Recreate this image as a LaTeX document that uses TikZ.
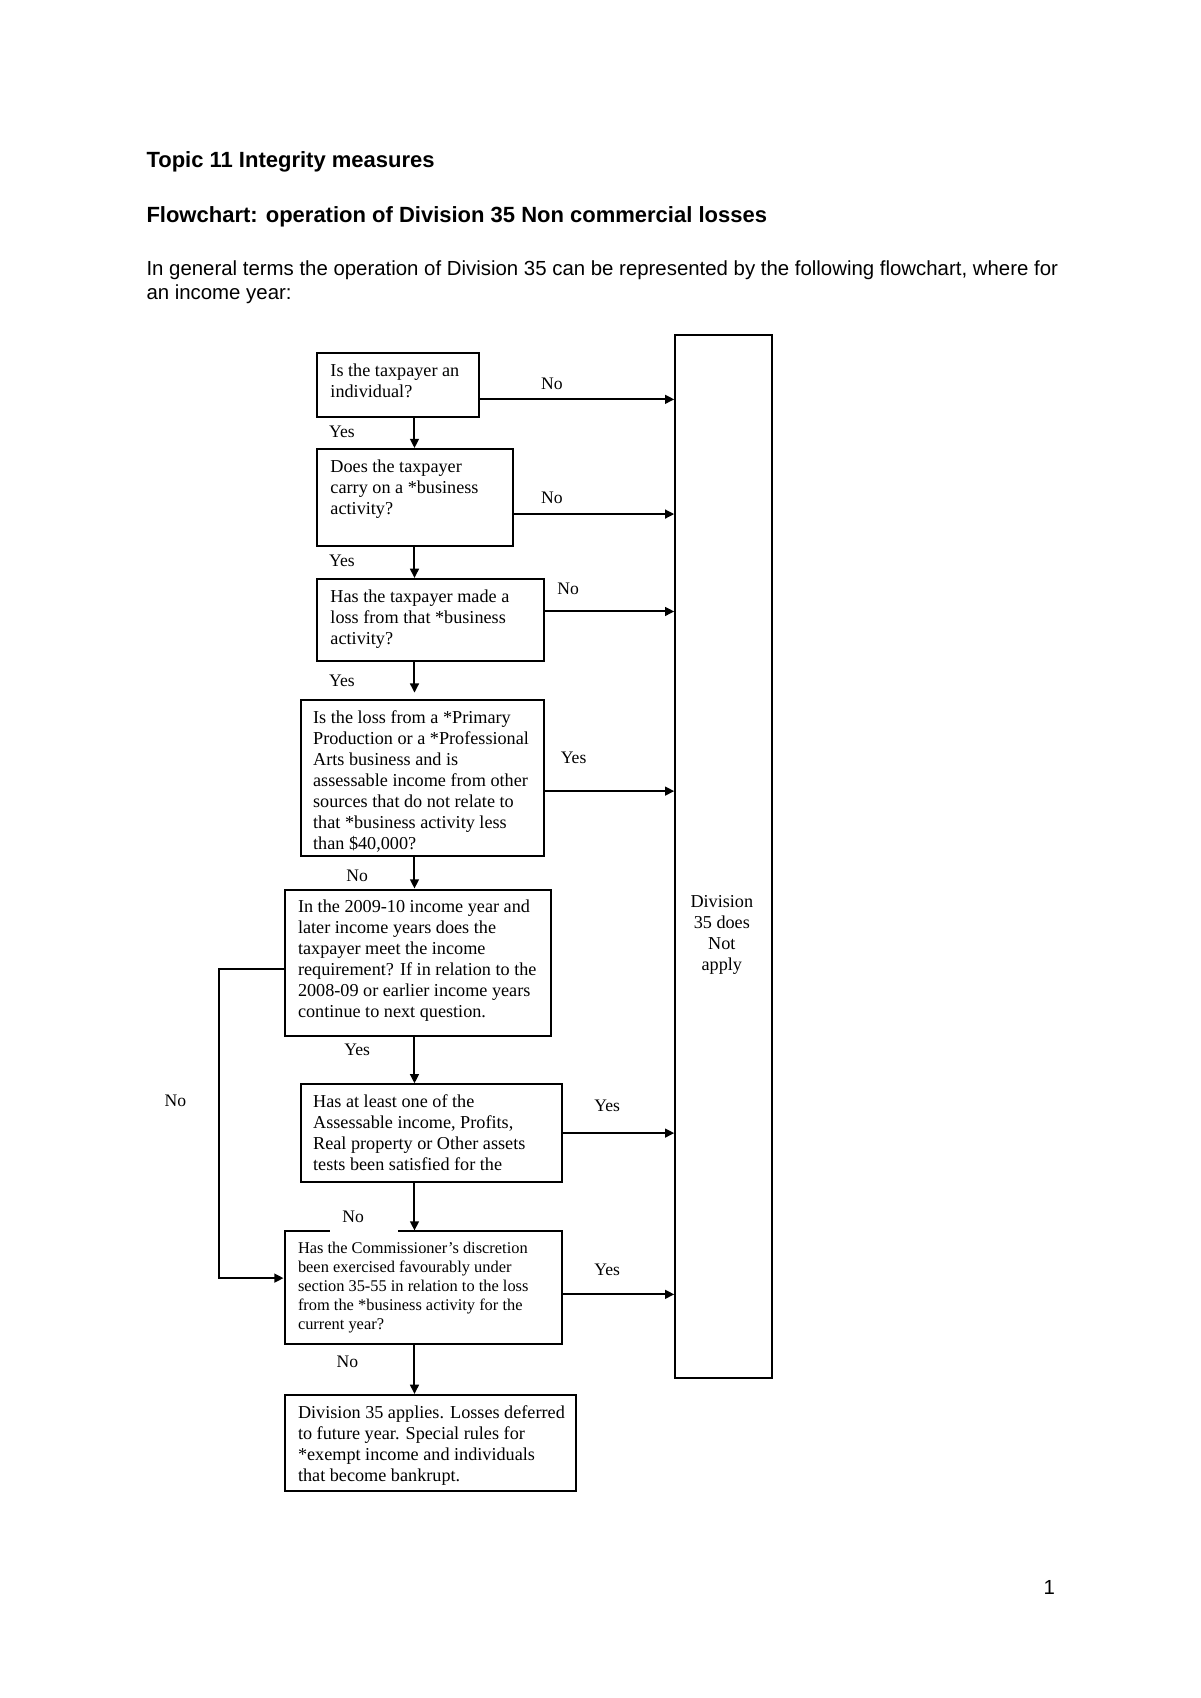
\documentclass[tikz,border=0pt]{standalone}
\usepackage{fontspec}
\setmainfont{Liberation Serif}
\newfontfamily\arialfont{Liberation Sans}
\usetikzlibrary{arrows.meta}
\def\U{0.5412pt}
\begin{document}
\begin{tikzpicture}[x=0.5412pt,y=-0.5412pt,
  box/.style={draw, line width=1pt, inner sep=0pt, anchor=north west},
  txt/.style={anchor=north west, inner sep=0pt, align=left, font=\fontsize{9.1}{10.5}\selectfont},
  smalltxt/.style={anchor=north west, inner sep=0pt, align=left, font=\fontsize{8.2}{9.6}\selectfont},
  lbl/.style={inner sep=0pt, font=\fontsize{8.8}{10}\selectfont},
  arr/.style={-{Triangle[length=4.6pt,width=4.4pt]}, line width=1pt},
  head/.style={anchor=base west, inner sep=0pt, font=\arialfont\bfseries\fontsize{11}{13}\selectfont},
  body/.style={anchor=base west, inner sep=0pt, font=\arialfont\fontsize{10.2}{12}\selectfont}]
\useasboundingbox[fill=white] (0,0) rectangle (1109,1569);

% header
\node[head] (t1) at (135,155) {Topic 11 Integrity measures};
\node[head] (t2) at (135,206) {Flowchart: operation of Division 35 Non commercial losses};
\node[body] (t3) at (135,254.5) {In general terms the operation of Division 35 can be represented by the following flowchart, where for};
\node[body] (t4) at (135,276.5) {an income year:};
\node[body] (pg) at (964,1473) {1};

% boxes
\node[box, minimum width=150*\U, minimum height=59*\U] (A) at (292,325) {};
\node[box, minimum width=181*\U, minimum height=90*\U] (B) at (292,414) {};
\node[box, minimum width=210*\U, minimum height=76*\U] (C) at (292,534) {};
\node[box, minimum width=225*\U, minimum height=144*\U] (D) at (277,646) {};
\node[box, minimum width=246*\U, minimum height=135*\U] (E) at (262,821) {};
\node[box, minimum width=241*\U, minimum height=90*\U] (F) at (277,1001) {};
\node[box, minimum width=256*\U, minimum height=104*\U] (G) at (262,1137) {};
\node[box, minimum width=269*\U, minimum height=89*\U] (H) at (262,1288) {};
\node[box, minimum width=89*\U, minimum height=963*\U] (R) at (623,309) {};

% texts
\node[txt] (At) at (305,335.5) {Is the taxpayer an\\individual?};
\node[txt] (Bt) at (305,424.5) {Does the taxpayer\\carry on a *business\\activity?};
\node[txt] (Ct) at (305,544.5) {Has the taxpayer made a\\loss from that *business\\activity?};
\node[txt] (Dt) at (289,656.5) {Is the loss from a *Primary\\Production or a *Professional\\Arts business and is\\assessable income from other\\sources that do not relate to\\that *business activity less\\than \$40,000?};
\node[txt] (Et) at (275,831) {In the 2009-10 income year and\\later income years does the\\taxpayer meet the income\\requirement? If in relation to the\\2008-09 or earlier income years\\continue to next question.};
\node[txt] (Ft) at (289,1011.5) {Has at least one of the\\Assessable income, Profits,\\Real property or Other assets\\tests been satisfied for the};
\node[smalltxt] (Gt) at (275,1147) {Has the Commissioner’s discretion\\been exercised favourably under\\section 35-55 in relation to the loss\\from the *business activity for the\\current year?};
\node[txt] (Ht) at (275,1298.5) {Division 35 applies. Losses deferred\\to future year. Special rules for\\*exempt income and individuals\\that become bankrupt.};
\node[txt, anchor=center, align=center] (Rt) at (667,864) {Division\\35 does\\Not\\apply};

% helper coordinates
\coordinate (sp) at (383,0);
\coordinate (yA) at (0,369);
\coordinate (yB) at (0,475);
\coordinate (yC) at (0,565);
\coordinate (yD) at (0,731);
\coordinate (yF) at (0,1047);
\coordinate (yG) at (0,1196);
\coordinate (yEl) at (0,895);
\coordinate (yGl) at (0,1181);
\coordinate (lx) at (202,0);

% vertical flow
\draw[arr] (A.south -| sp) -- (B.north -| sp);
\draw[arr] (B.south -| sp) -- (C.north -| sp);
\draw[arr] (C.south -| sp) -- ([yshift=6*\U]D.north -| sp);
\draw[arr] (D.south -| sp) -- (E.north -| sp);
\draw[arr] (E.south -| sp) -- (F.north -| sp);
\draw[arr] (F.south -| sp) -- (G.north -| sp);
\draw[arr] (G.south -| sp) -- (H.north -| sp);

% to the right box
\draw[arr] (A.east |- yA) -- (R.west |- yA);
\draw[arr] (B.east |- yB) -- (R.west |- yB);
\draw[arr] (C.east |- yC) -- (R.west |- yC);
\draw[arr] (D.east |- yD) -- (R.west |- yD);
\draw[arr] (F.east |- yF) -- (R.west |- yF);
\draw[arr] (G.east |- yG) -- (R.west |- yG);

% loop
\draw[arr] (E.west |- yEl) -| (lx |- yGl) -- (G.west |- yGl);

% labels
\node[lbl] (l1) at (316,399) {Yes};
\node[lbl] (l2) at (316,518) {Yes};
\node[lbl] (l3) at (316,629) {Yes};
\node[lbl] (l4) at (330,809) {No};
\node[lbl] (l5) at (330,970) {Yes};
\node[lbl, fill=white, minimum height=27*\U, text width=62*\U, align=left, anchor=south west] (l6) at (305,1138.6) {\hspace*{6pt}No};
\node[lbl] (l7) at (321,1258) {No};
\node[lbl] (r1) at (510,355) {No};
\node[lbl] (r2) at (510,460) {No};
\node[lbl] (r3) at (525,544) {No};
\node[lbl] (r4) at (530,700) {Yes};
\node[lbl] (r5) at (561,1022) {Yes};
\node[lbl] (r6) at (561,1173) {Yes};
\node[lbl] (ln) at (162,1017) {No};
\end{tikzpicture}
\end{document}
